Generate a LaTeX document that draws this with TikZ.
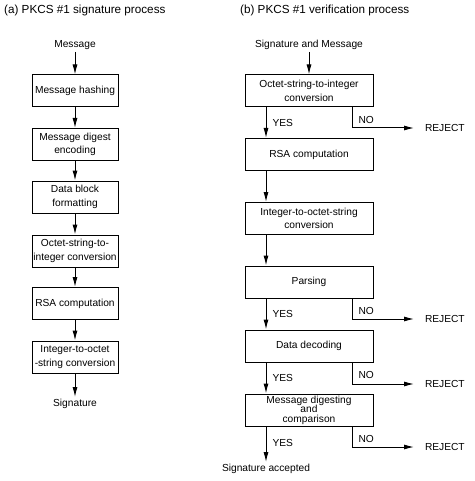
\documentclass[tikz,border=0pt]{standalone}
\usepackage{fontspec}
\setmainfont{Liberation Sans}
\usetikzlibrary{arrows.meta}
\begin{document}
\begin{tikzpicture}[x=1pt,y=-1pt,
  box/.style={draw, line width=1pt, align=center, inner sep=1pt,
    font=\fontsize{10.2}{13.5}\selectfont},
  lbox/.style={box, minimum width=86pt, minimum height=32pt},
  rbox/.style={box, minimum width=128pt, minimum height=32pt},
  lbl/.style={font=\fontsize{10.2}{12}\selectfont, inner sep=2pt},
  title/.style={font=\fontsize{11.7}{14}\selectfont, anchor=west, inner sep=0pt},
  arr/.style={line width=1pt, -{Latex[length=10pt,width=5pt]}},
  rej/.style={lbl, anchor=west, inner xsep=0pt, outer xsep=11pt}]
\useasboundingbox (0,0) rectangle (474,481);
% titles
\node[title] (ta) at (4,10) {(a) PKCS \#1 signature process};
\node[title] (tb) at (240,10) {(b) PKCS \#1 verification process};
% left column
\node[lbl] (msg) at (75,45) {Message};
\node[lbox] (l1) at (75,91) {Message hashing};
\node[lbox] (l2) at (75,144.5) {Message digest\\encoding};
\node[lbox] (l3) at (75,197) {Data block\\formatting};
\node[lbox] (l4) at (75,251) {Octet-string-to-\\integer conversion};
\node[lbox] (l5) at (75,303.5) {RSA computation};
\node[lbox] (l6) at (75,357) {Integer-to-octet\\-string conversion};
\node[lbl] (sig) at (75,404) {Signature};
\draw[arr] (msg) -- (l1);
\draw[arr] (l1) -- (l2);
\draw[arr] (l2) -- (l3);
\draw[arr] (l3) -- (l4);
\draw[arr] (l4) -- (l5);
\draw[arr] (l5) -- (l6);
\draw[arr] (l6) -- (sig);
% right column
\coordinate (yx) at (266,0);
\coordinate (nx) at (352,0);
\node[lbl] (sm) at (309,45) {Signature and Message};
\node[rbox] (r1) at (309,91) {Octet-string-to-integer\\conversion};
\node[rbox] (r2) at (309,154.5) {RSA computation};
\node[rbox] (r3) at (309,218.5) {Integer-to-octet-string\\conversion};
\node[rbox] (r4) at (309,282) {Parsing};
\node[rbox] (r5) at (309,346) {Data decoding};
\node[rbox, font=\fontsize{10.2}{9.6}\selectfont] (r6) at (309,410) {Message digesting\\and\\comparison};
\node[lbl] (acc) at (266,469) {Signature accepted};
\node[rej] (j1) at (414,128) {REJECT};
\node[rej] (j4) at (414,319) {REJECT};
\node[rej] (j5) at (414,384) {REJECT};
\node[rej] (j6) at (414,447) {REJECT};
\draw[arr] (sm) -- (r1);
\draw[arr] (r1.south -| yx) -- node[lbl, right=4pt] {YES} (r2.north -| yx);
\draw[arr] (r2.south -| yx) -- (r3.north -| yx);
\draw[arr] (r3.south -| yx) -- (r4.north -| yx);
\draw[arr] (r4.south -| yx) -- node[lbl, right=4pt] {YES} (r5.north -| yx);
\draw[arr] (r5.south -| yx) -- node[lbl, right=4pt] {YES} (r6.north -| yx);
\draw[arr] (r6.south -| yx) -- node[lbl, right=4pt, pos=0.45] {YES} (acc.north -| yx);
\draw[arr] (r1.south -| nx) |- node[lbl, right=4pt, pos=0.3] {NO} (j1.west);
\draw[arr] (r4.south -| nx) |- node[lbl, right=4pt, pos=0.3] {NO} (j4.west);
\draw[arr] (r5.south -| nx) |- node[lbl, right=4pt, pos=0.3] {NO} (j5.west);
\draw[arr] (r6.south -| nx) |- node[lbl, right=4pt, pos=0.3] {NO} (j6.west);
\end{tikzpicture}
\end{document}
